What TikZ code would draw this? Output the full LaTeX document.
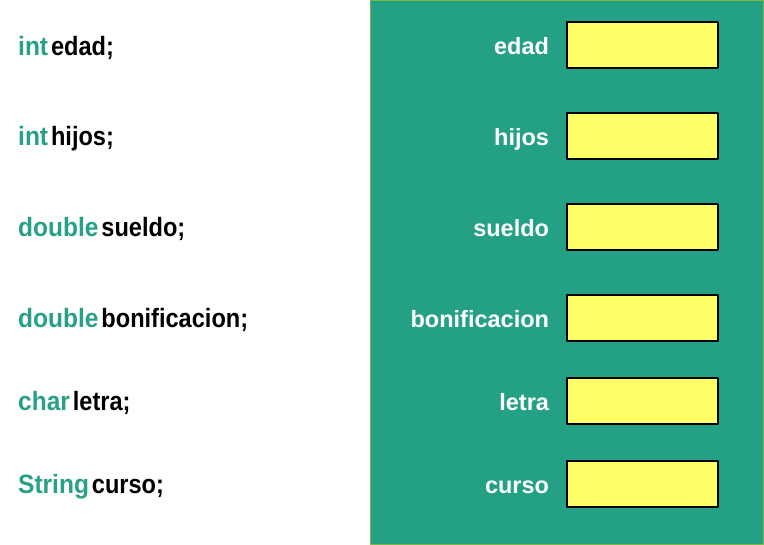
\documentclass[tikz,border=0pt]{standalone}
\usepackage{fontspec}
\setmainfont{Liberation Sans}
\newfontfamily\keyfamily[FakeStretch=0.925]{Liberation Sans}
\newfontfamily\namefamily[FakeStretch=0.89]{Liberation Sans}
\usetikzlibrary{positioning}
\definecolor{panelgreen}{HTML}{24A185}
\definecolor{panelrim}{HTML}{7AB648}
\definecolor{keygreen}{HTML}{26A087}
\definecolor{cellyellow}{HTML}{FFFF66}
\newcommand{\keyfont}{\keyfamily\fontsize{26.5}{30}\selectfont\bfseries}
\newcommand{\namefont}{\namefamily\fontsize{26.5}{30}\selectfont\bfseries}
\newcommand{\tagfont}{\fontsize{23.5}{28}\selectfont\bfseries}

\begin{document}
\begin{tikzpicture}[x=1pt, y=-1pt, line join=round,
  keyw/.style={text=keygreen, font=\keyfont, anchor=base west, inner sep=0pt},
  varname/.style={text=black, font=\namefont, anchor=base west, inner sep=0pt},
  cell/.style={draw=black, line width=1.6pt, fill=cellyellow, minimum width=151pt, minimum height=46pt, inner sep=0pt},
  tag/.style={text=white, font=\tagfont, inner sep=0pt, text height=18pt, text depth=5pt}]

\useasboundingbox (0,0) rectangle (764,545);

% panel
\draw [fill=panelgreen, draw=panelrim, line width=1pt] (370.5,0.5) rectangle (763.5,544.5);

% declarations
\node [keyw] (kwEdad) at (18,56) {int};
\node [varname] (vEdad) at ([xshift=2.5pt]kwEdad.base east) {edad;};
\node [keyw] (kwHijos) at (18,146) {int};
\node [varname] (vHijos) at ([xshift=2.5pt]kwHijos.base east) {hijos;};
\node [keyw] (kwSueldo) at (18,237) {double};
\node [varname] (vSueldo) at ([xshift=2.5pt]kwSueldo.base east) {sueldo;};
\node [keyw] (kwBonif) at (18,328) {double};
\node [varname] (vBonif) at ([xshift=2.5pt]kwBonif.base east) {bonificacion;};
\node [keyw] (kwLetra) at (18,411) {char};
\node [varname] (vLetra) at ([xshift=2.5pt]kwLetra.base east) {letra;};
\node [keyw] (kwCurso) at (18,494) {String};
\node [varname] (vCurso) at ([xshift=2.5pt]kwCurso.base east) {curso;};

% memory cells
\node [cell] (cEdad) at (642.5,45) {};
\node [cell] (cHijos) at (642.5,136) {};
\node [cell] (cSueldo) at (642.5,227) {};
\node [cell] (cBonif) at (642.5,318) {};
\node [cell] (cLetra) at (642.5,401) {};
\node [cell] (cCurso) at (642.5,484) {};

\node [tag, left=17pt of cEdad, yshift=-3.5pt] (tEdad) {edad};
\node [tag, left=17pt of cHijos, yshift=-3.5pt] (tHijos) {hijos};
\node [tag, left=17pt of cSueldo, yshift=-3.5pt] (tSueldo) {sueldo};
\node [tag, left=17pt of cBonif, yshift=-3.5pt] (tBonif) {bonificacion};
\node [tag, left=17pt of cLetra, yshift=-3.5pt] (tLetra) {letra};
\node [tag, left=17pt of cCurso, yshift=-3.5pt] (tCurso) {curso};
\end{tikzpicture}
\end{document}
